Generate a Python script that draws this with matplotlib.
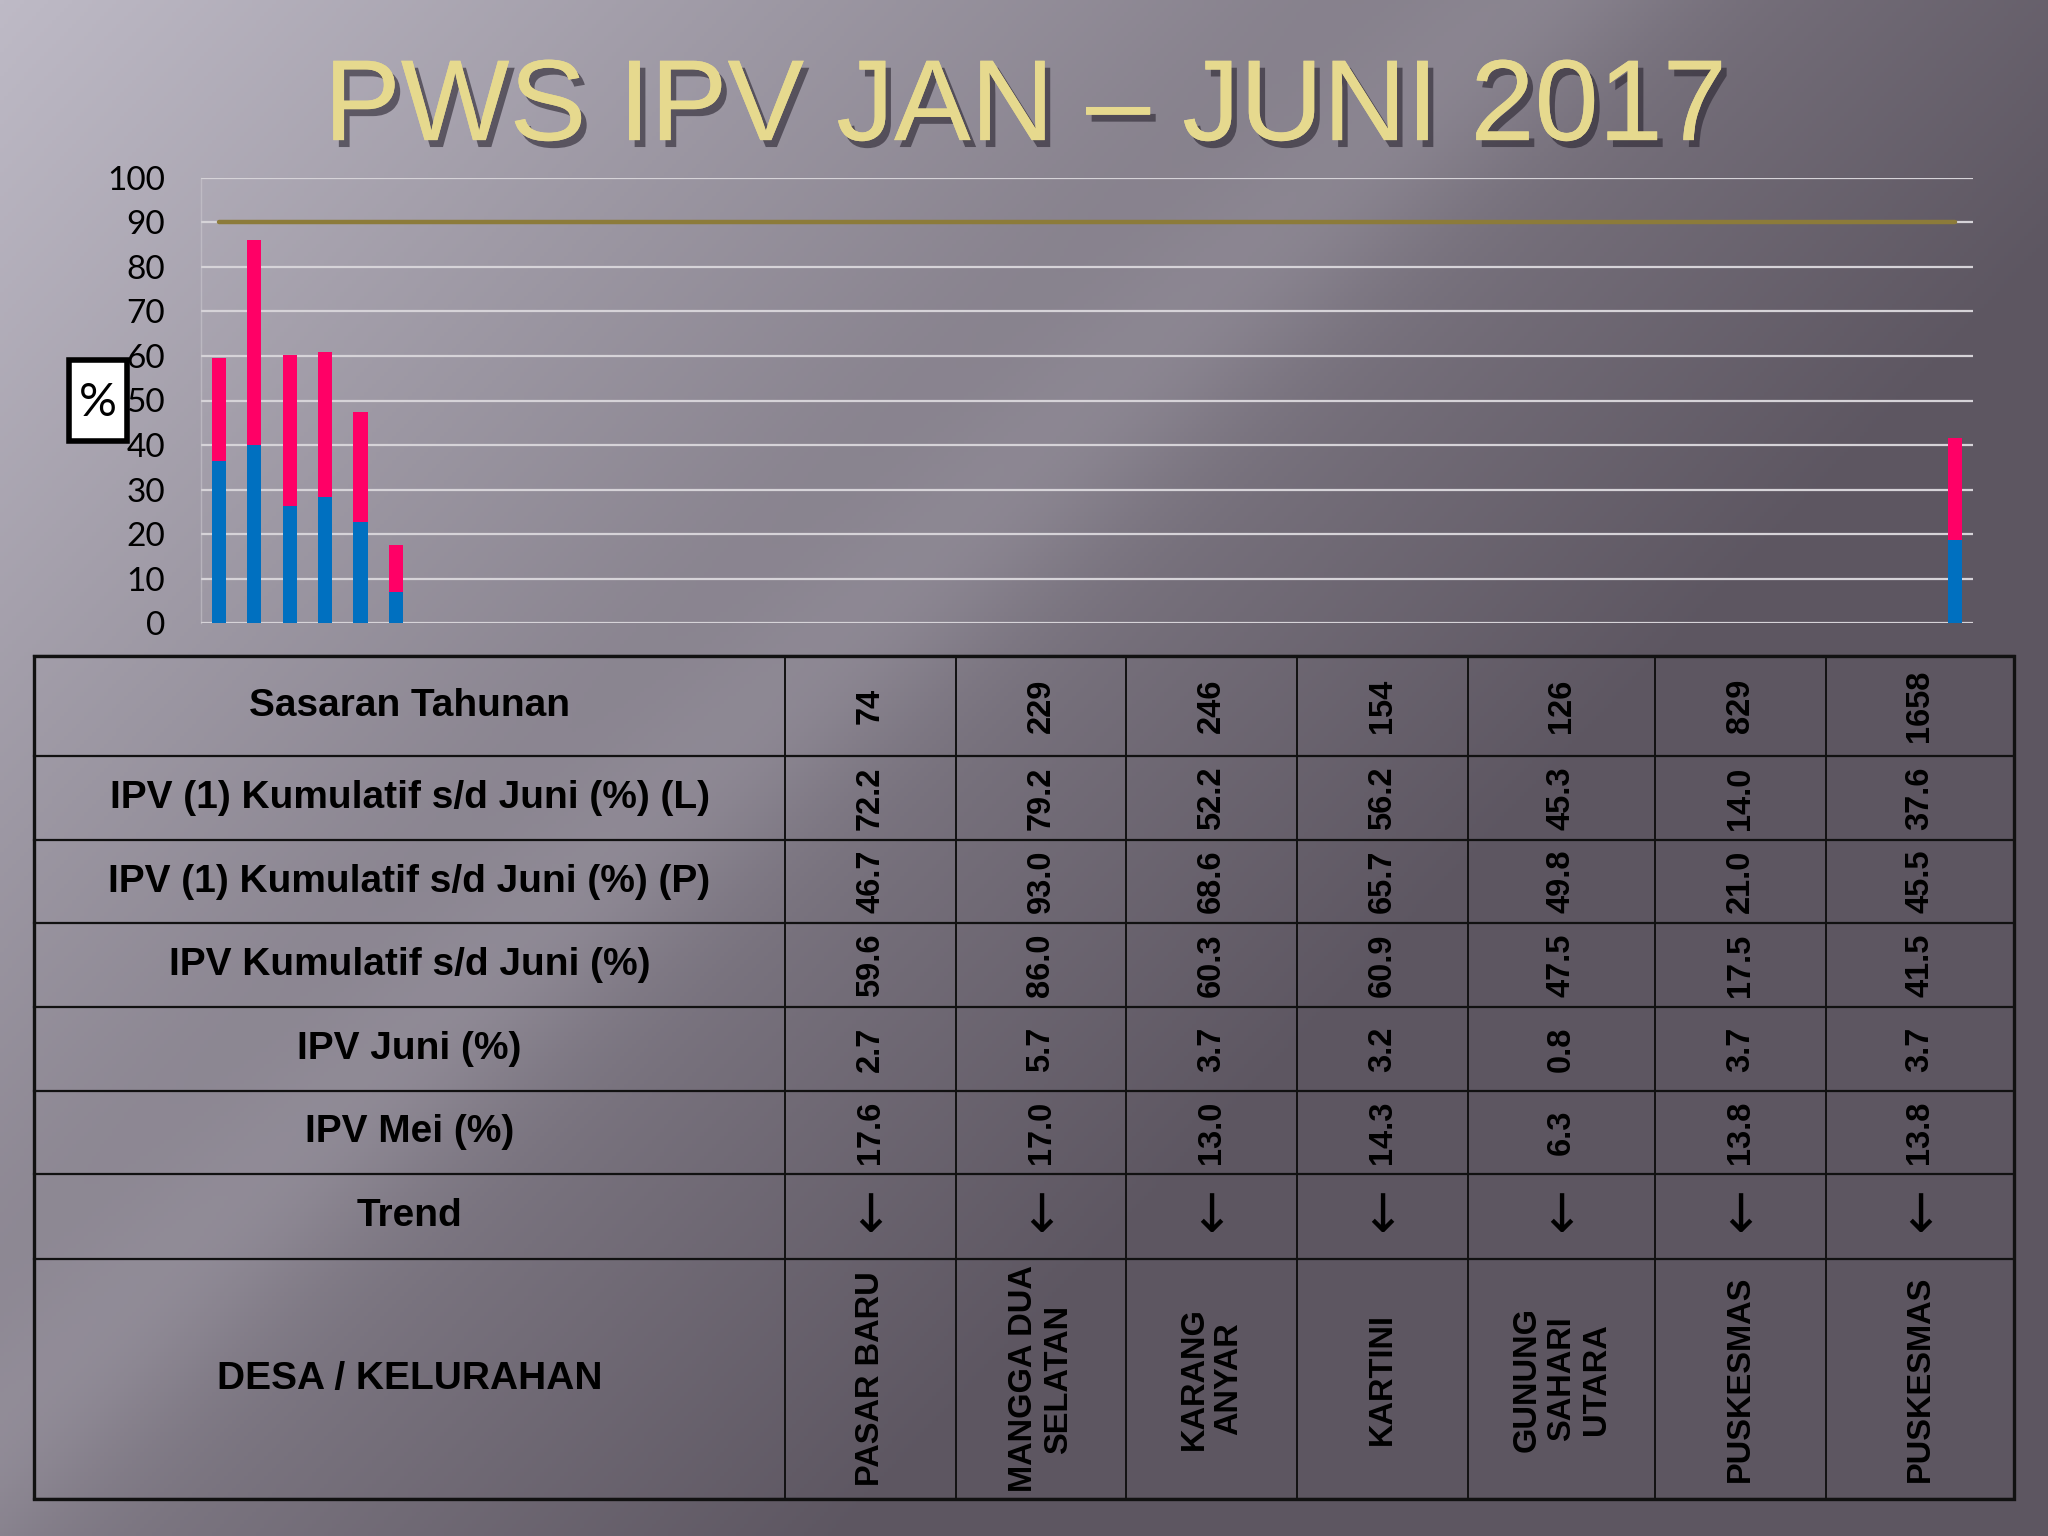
import numpy as np
import matplotlib.pyplot as plt
from matplotlib import patheffects
from matplotlib.patches import Rectangle

# table data (one value per desa / kelurahan column)
desa = ["PASAR BARU", "MANGGA DUA\nSELATAN", "KARANG\nANYAR", "KARTINI",
        "GUNUNG\nSAHARI\nUTARA", "PUSKESMAS", "PUSKESMAS"]
sasaran = [74, 229, 246, 154, 126, 829, 1658]
ipv1_l = [72.2, 79.2, 52.2, 56.2, 45.3, 14.0, 37.6]
ipv1_p = [46.7, 93.0, 68.6, 65.7, 49.8, 21.0, 45.5]
ipv_kum = [59.6, 86.0, 60.3, 60.9, 47.5, 17.5, 41.5]
ipv_juni = [2.7, 5.7, 3.7, 3.2, 0.8, 3.7, 3.7]
ipv_mei = [17.6, 17.0, 13.0, 14.3, 6.3, 13.8, 13.8]
trend = ["↓"] * 7

row_labels = ["Sasaran Tahunan", "IPV (1) Kumulatif s/d Juni (%) (L)",
              "IPV (1) Kumulatif s/d Juni (%) (P)", "IPV Kumulatif s/d Juni (%)",
              "IPV Juni (%)", "IPV Mei (%)", "Trend", "DESA / KELURAHAN"]

# chart: lower (blue) part of each bar, bar top = ipv_kum
bar_blue = [36.5, 40.0, 26.3, 28.4, 22.8, 7.0, 18.7]
target = 90
yticks = list(range(0, 101, 10))

# the source sheet has 43 empty rows between the 6 desa and the puskesmas total
empty = [np.nan] * 43
blue_series = np.array(bar_blue[:6] + empty + bar_blue[6:])
total_series = np.array(ipv_kum[:6] + empty + ipv_kum[6:])
pink_series = total_series - blue_series
x = np.arange(len(blue_series))

W, H = 2048, 1536
fig = plt.figure(figsize=(W / 100, H / 100), dpi=100)

# slide background
bg = fig.add_axes([0, 0, 1, 1], zorder=-2)
yy, xx = np.mgrid[0:1:384j, 0:1:512j]
b = 1 - 0.85 * xx - 0.6 * yy
b += 0.12 * np.exp(-((xx + 0.8 * yy - 0.75) / 0.07) ** 2)
b = np.clip(b, 0.05, 1)
dark = np.array([88, 81, 92]) / 255
light = np.array([190, 186, 198]) / 255
bg.imshow(dark + (light - dark) * b[..., None], aspect="auto", extent=[0, 1, 1, 0])
bg.set_xlim(0, 1)
bg.set_ylim(1, 0)
bg.axis("off")

# title
fig.text(0.5005, 0.928, "PWS IPV JAN – JUNI 2017", ha="center", va="center",
         fontsize=83, family="Liberation Sans", color="#e6d98e",
         path_effects=[patheffects.withSimplePatchShadow(offset=(4, -5), shadow_rgbFace="#2a2530", alpha=0.6),
                       patheffects.Normal()])

# chart
ax = fig.add_axes([201 / W, 1 - 623.3 / H, (1973 - 201) / W, (623.3 - 177.7) / H])
ax.patch.set_alpha(0)
ax.bar(x, blue_series, width=0.4, color="#0070C0", zorder=3)
ax.bar(x, pink_series, width=0.4, bottom=blue_series, color="#FF0066", zorder=3)
ax.plot(x, [target] * len(x), color="#8c7b3a", lw=3.2, solid_capstyle="round", zorder=4)
ax.set_xlim(-0.5, len(x) - 0.5)
ax.set_ylim(0, 100)
ax.set_yticks(yticks)
ax.set_xticks([])
ax.grid(axis="y", color="#d6d3d8", lw=1.6, zorder=0)
for s in ["top", "right", "bottom"]:
    ax.spines[s].set_visible(False)
ax.spines["left"].set_color("#d0cdd3")
ax.spines["left"].set_alpha(0.5)
ax.spines["left"].set_linewidth(1)
ax.tick_params(axis="y", length=0, pad=26, labelsize=24, labelcolor="black")
for t in ax.get_yticklabels():
    t.set_family("Lato")

# "%" label box
fig.patches.append(Rectangle((69 / W, 1 - 441 / H), 58 / W, 81 / H, transform=fig.transFigure,
                             facecolor="white", edgecolor="black", lw=4, zorder=5))
fig.text(98 / W, 1 - 403 / H, "%", ha="center", va="center", fontsize=34,
         family="Lato", color="black", zorder=6)

# table, drawn in pixel coordinates of the slide
tb = fig.add_axes([0, 0, 1, 1], zorder=1)
tb.set_xlim(0, W)
tb.set_ylim(H, 0)
tb.axis("off")
col_edges = [34, 785, 956, 1126, 1297, 1468, 1655, 1826, 2014]
row_edges = [656, 756, 840, 923, 1007, 1091, 1174, 1259, 1499]
for yv in row_edges:
    tb.plot([col_edges[0], col_edges[-1]], [yv, yv], color="#111111", lw=1.6)
for xv in col_edges:
    tb.plot([xv, xv], [row_edges[0], row_edges[-1]], color="#111111", lw=1.4)
tb.add_patch(Rectangle((col_edges[0], row_edges[0]), col_edges[-1] - col_edges[0],
                       row_edges[-1] - row_edges[0], fill=False, edgecolor="#111111", lw=2.4))

rows = [[str(v) for v in sasaran],
        [f"{v:.1f}" for v in ipv1_l],
        [f"{v:.1f}" for v in ipv1_p],
        [f"{v:.1f}" for v in ipv_kum],
        [f"{v:.1f}" for v in ipv_juni],
        [f"{v:.1f}" for v in ipv_mei],
        trend,
        desa]

for r, label in enumerate(row_labels):
    yc = (row_edges[r] + row_edges[r + 1]) / 2
    tb.text((col_edges[0] + col_edges[1]) / 2, yc, label, ha="center", va="center",
            fontsize=28, fontweight="bold", family="Liberation Sans", color="black")
    for c, val in enumerate(rows[r]):
        xc = (col_edges[c + 1] + col_edges[c + 2]) / 2
        if label == "Trend":
            tb.text(xc, yc, val, ha="center", va="center", fontsize=38,
                    family=["DejaVu Sans"], color="black")
        else:
            tb.text(xc, yc, val, ha="center", va="center", rotation=90,
                    fontsize=23.5, fontweight="bold", family="Liberation Sans",
                    color="black", multialignment="center", linespacing=1.15)

fig.savefig("out.png", dpi=100)
